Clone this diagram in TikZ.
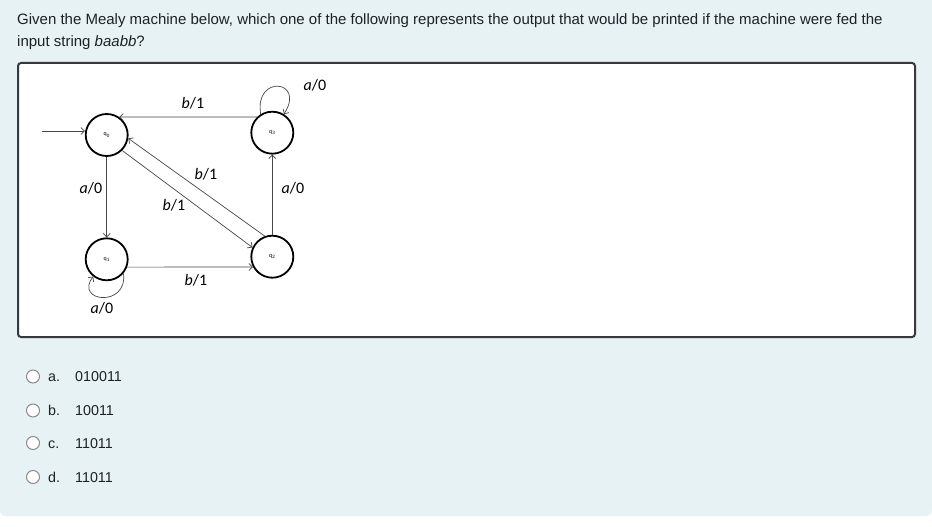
\documentclass[tikz,border=0pt]{standalone}
\usepackage{fontspec}
\setmainfont{Liberation Sans}
\newfontfamily\lblfont{Carlito}
\usetikzlibrary{arrows.meta}
\definecolor{bgblue}{RGB}{231,242,245}
\definecolor{frame}{RGB}{55,58,60}
\definecolor{edgegray}{RGB}{70,70,70}
\definecolor{txt}{RGB}{29,33,37}
\definecolor{radio}{RGB}{140,140,140}
\begin{document}
\begin{tikzpicture}[x=1pt,y=-1pt,
  state/.style={circle,draw=black,line width=1.8pt,minimum size=42pt,inner sep=0pt,
    font=\lblfont\fontsize{6}{7}\selectfont},
  edge/.style={draw=edgegray,line width=0.7pt,-{Straight Barb[length=3.5pt,width=7pt]}},
  elabel/.style={font=\lblfont\fontsize{16}{18}\selectfont,inner sep=0pt},
  qtext/.style={font=\fontsize{15}{17}\selectfont,text=txt,inner sep=0pt,anchor=base west},
  radiobtn/.style={circle,draw=radio,fill=white,line width=1pt,minimum size=13pt,inner sep=0pt},
  opt/.style={font=\fontsize{14.3}{16}\selectfont,text=txt,inner sep=0pt,anchor=base west}]
\useasboundingbox (0,0) rectangle (932,527);
\fill[white] (0,0) rectangle (932,527);
\fill[bgblue] (0,0) rectangle (932,505);
\fill[bgblue,rounded corners=6pt] (0,495) rectangle (932,516);
% question
\node[qtext] (l1) at (17,25) {Given the Mealy machine below, which one of the following represents the output that would be printed if the machine were fed the};
\node[qtext] (l2) at (17,47) {input string \textit{baabb}?};
% frame
\draw[line width=2pt,draw=frame,fill=white,rounded corners=3pt] (18,63) rectangle (915,337);
% states
\node[state] (q0) at (106.7,135) {q\textsubscript{0}};
\node[state] (q1) at (106.7,259.3) {q\textsubscript{1}};
\node[state] (q2) at (272.3,256.7) {q\textsubscript{2}};
\node[state] (q3) at (272.3,132.7) {q\textsubscript{3}};
\coordinate (start) at (42,131);
% edges
\draw[edge] (start) -- (q0.west |- start);
\draw[edge] (q3.122) .. controls (254,74) and (306,80) .. (q3.58);
\draw[edge] (q3.134) -- (q0.55);
\draw[edge] (q0.south) -- (q1.north);
\draw[edge] (q1.-21) -- (q2.208);
\draw[edge] (q2.north) -- (q3.south);
\draw[edge] (q0.-45) -- (q2.155);
\draw[edge] (q2.110) -- (q0.-9);
\draw[edge] (q1.-40) .. controls (128,308) and (74,302) .. (q1.-128);
% labels
\node[elabel] (lb1) at (193,103) {\textit{b}/1};
\node[elabel] (la1) at (315,85) {\textit{a}/0};
\node[elabel] (la2) at (91,188) {\textit{a}/0};
\node[elabel] (lb2) at (206,174) {\textit{b}/1};
\node[elabel] (lb3) at (174,205) {\textit{b}/1};
\node[elabel] (la3) at (293,188) {\textit{a}/0};
\node[elabel] (lb4) at (196,280) {\textit{b}/1};
\node[elabel] (la4) at (102,308) {\textit{a}/0};
% options
\node[radiobtn] (r1) at (33,376.5) {};
\node[radiobtn] (r2) at (33,410.5) {};
\node[radiobtn] (r3) at (33,443) {};
\node[radiobtn] (r4) at (33,477) {};
\node[opt] (oa) at (48,381.5) {a.};
\node[opt] (ob) at (48,415.5) {b.};
\node[opt] (oc) at (48,448) {c.};
\node[opt] (od) at (48,482) {d.};
\node[opt] (va) at (75,381.5) {010011};
\node[opt] (vb) at (75,415.5) {10011};
\node[opt] (vc) at (75,448) {11011};
\node[opt] (vd) at (75,482) {11011};
\end{tikzpicture}
\end{document}
